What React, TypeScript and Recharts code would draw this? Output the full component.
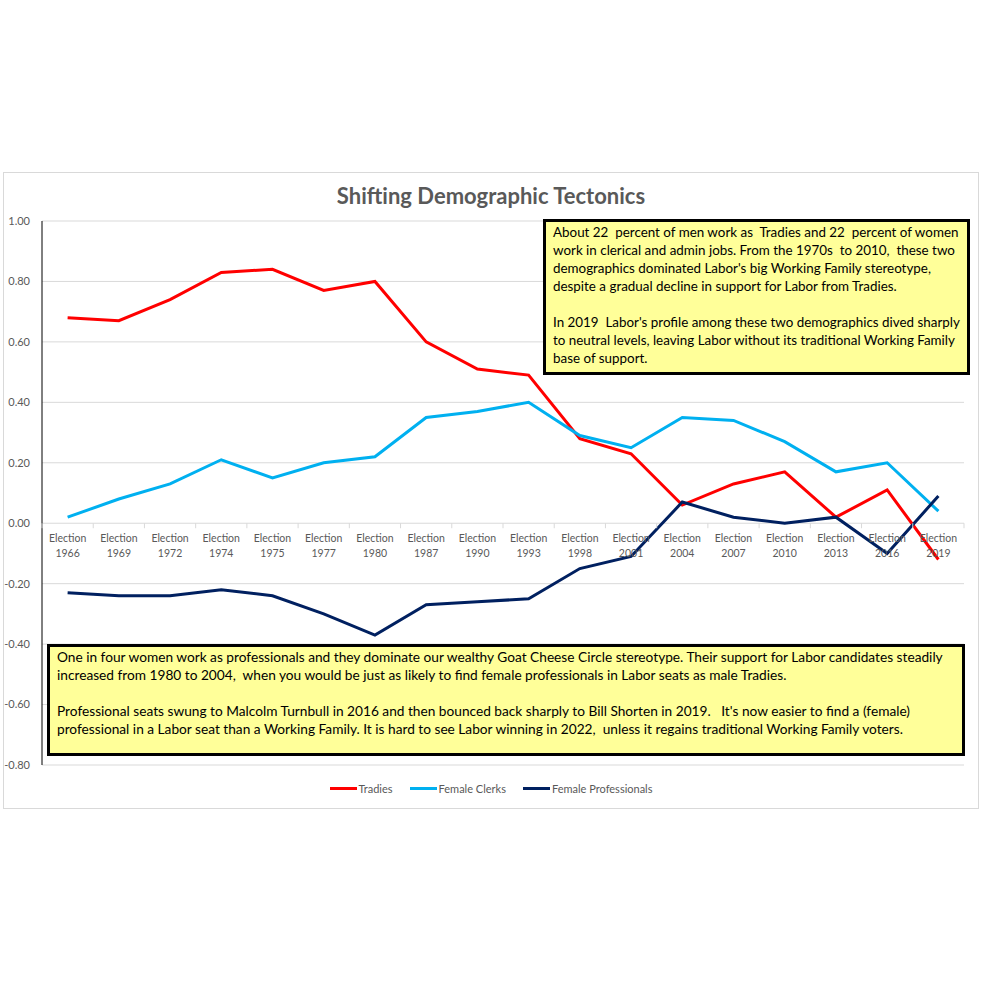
import { LineChart, Line, XAxis, YAxis, CartesianGrid, Legend } from "recharts";

const YEARS = ["1966", "1969", "1972", "1974", "1975", "1977", "1980", "1987", "1990", "1993", "1998", "2001", "2004", "2007", "2010", "2013", "2016", "2019"];
const TRADIES = [0.68, 0.67, 0.74, 0.83, 0.84, 0.77, 0.8, 0.6, 0.51, 0.49, 0.28, 0.23, 0.06, 0.13, 0.17, 0.02, 0.11, -0.12];
const FEMALE_CLERKS = [0.02, 0.08, 0.13, 0.21, 0.15, 0.2, 0.22, 0.35, 0.37, 0.4, 0.29, 0.25, 0.35, 0.34, 0.27, 0.17, 0.2, 0.04];
const FEMALE_PROFESSIONALS = [-0.23, -0.24, -0.24, -0.22, -0.24, -0.3, -0.37, -0.27, -0.26, -0.25, -0.15, -0.11, 0.07, 0.02, 0.0, 0.02, -0.1, 0.09];
const Y_TICKS = [-0.8, -0.6, -0.4, -0.2, 0, 0.2, 0.4, 0.6, 0.8, 1.0];

const SERIES = [
  { key: "tradies", name: "Tradies", color: "#FF0000" },
  { key: "clerks", name: "Female Clerks", color: "#00B0F0" },
  { key: "professionals", name: "Female Professionals", color: "#002060" },
];

const NOTE_TOP = [
  "About 22  percent of men work as  Tradies and 22  percent of women",
  "work in clerical and admin jobs. From the 1970s  to 2010,  these two",
  "demographics dominated Labor's big Working Family stereotype,",
  "despite a gradual decline in support for Labor from Tradies.",
  "",
  "In 2019  Labor's profile among these two demographics dived sharply",
  "to neutral levels, leaving Labor without its traditional Working Family",
  "base of support.",
];

const NOTE_BOTTOM = [
  "One in four women work as professionals and they dominate our wealthy Goat Cheese Circle stereotype. Their support for Labor candidates steadily",
  "increased from 1980 to 2004,  when you would be just as likely to find female professionals in Labor seats as male Tradies.",
  "",
  "Professional seats swung to Malcolm Turnbull in 2016 and then bounced back sharply to Bill Shorten in 2019.   It's now easier to find a (female)",
  "professional in a Labor seat than a Working Family. It is hard to see Labor winning in 2022,  unless it regains traditional Working Family voters.",
];

const data = YEARS.map((year, i) => ({
  year,
  tradies: TRADIES[i],
  clerks: FEMALE_CLERKS[i],
  professionals: FEMALE_PROFESSIONALS[i],
}));

const W = 982;
const H = 982;
const TOP = 221;
const LEFT = 42;
const RIGHT = 964;
const BOTTOM = 765;
const Y_MIN = -0.8;
const Y_MAX = 1.0;
const BAND = (RIGHT - LEFT) / YEARS.length;
const ZERO_Y = TOP + ((BOTTOM - TOP) * Y_MAX) / (Y_MAX - Y_MIN);
const FONT = "Lato, 'Open Sans', 'Liberation Sans', sans-serif";

function XTick({ x, payload, index }: any) {
  const left = x - BAND / 2;
  return (
    <g>
      <line x1={left} x2={left} y1={ZERO_Y} y2={ZERO_Y + 5} stroke="#d9d9d9" />
      {index === YEARS.length - 1 && (
        <line x1={left + BAND} x2={left + BAND} y1={ZERO_Y} y2={ZERO_Y + 5} stroke="#d9d9d9" />
      )}
      <text x={x} y={ZERO_Y + 19} textAnchor="middle" fontSize={10.5} fill="#595959" fontFamily={FONT}>
        <tspan x={x}>Election</tspan>
        <tspan x={x} dy={15}>{payload.value}</tspan>
      </text>
    </g>
  );
}

function LegendContent() {
  return (
    <div style={{ display: "flex", justifyContent: "center", gap: 17, fontFamily: FONT, fontSize: 11, color: "#595959" }}>
      {SERIES.map((s) => (
        <div key={s.key} style={{ display: "flex", alignItems: "center" }}>
          <span style={{ display: "inline-block", width: 27, height: 3, background: s.color, marginRight: 2 }} />
          <span>{s.name}</span>
        </div>
      ))}
    </div>
  );
}

const noteStyle = {
  position: "absolute" as const,
  background: "#FFFF99",
  border: "3px solid #000",
  fontFamily: FONT,
  lineHeight: "18px",
  color: "#000",
  whiteSpace: "pre" as const,
  boxSizing: "border-box" as const,
};

export default function App() {
  return (
    <div style={{ position: "absolute", left: 0, top: 0, width: W, height: H, background: "#fff" }}>
      <div style={{ position: "absolute", left: 3, top: 172, width: 976, height: 637, border: "1px solid #d9d9d9", boxSizing: "border-box" }} />
      <div style={{ position: "absolute", left: 0, width: W, top: 182, textAlign: "center", fontFamily: FONT, fontWeight: 700, fontSize: 22, color: "#595959" }}>
        Shifting Demographic Tectonics
      </div>
      <div style={{ position: "absolute", left: 0, top: 0 }}>
        <LineChart width={W} height={H} data={data} margin={{ top: TOP, right: W - RIGHT, bottom: H - BOTTOM - 30, left: 8 }}>
          <CartesianGrid horizontal vertical={false} stroke="#d9d9d9" />
          <XAxis
            dataKey="year"
            axisLine={false}
            tickLine={false}
            height={30}
            interval={0}
            padding={{ left: BAND / 2, right: BAND / 2 }}
            tick={(props: any) => <XTick {...props} />}
          />
          <YAxis
            domain={[Y_MIN, Y_MAX]}
            ticks={Y_TICKS}
            width={34}
            axisLine={{ stroke: "#000" }}
            tickLine={false}
            tickMargin={6}
            tickFormatter={(v: number) => v.toFixed(2)}
            tick={{ fontSize: 11, fill: "#595959", fontFamily: FONT }}
          />
          {SERIES.map((s) => (
            <Line
              key={s.key}
              type="linear"
              dataKey={s.key}
              name={s.name}
              stroke={s.color}
              strokeWidth={3}
              dot={false}
              isAnimationActive={false}
            />
          ))}
          <Legend
            verticalAlign="middle"
            layout="horizontal"
            content={<LegendContent />}
            wrapperStyle={{ position: "absolute", left: 0, top: 782, width: W }}
          />
        </LineChart>
      </div>
      <div style={{ ...noteStyle, fontSize: 13.4, left: 543, top: 219, width: 427, height: 156, padding: "1px 0 0 7px" }}>
        {NOTE_TOP.join("\n")}
      </div>
      <div style={{ ...noteStyle, fontSize: 13.7, left: 47, top: 644, width: 918, height: 112, padding: "1px 0 0 7px" }}>
        {NOTE_BOTTOM.join("\n")}
      </div>
    </div>
  );
}
